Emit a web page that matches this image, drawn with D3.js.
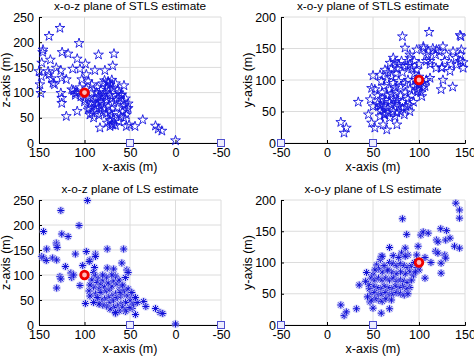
<!DOCTYPE html>
<html><head><meta charset="utf-8">
<script src="https://cdn.jsdelivr.net/npm/d3@7"></script>
<style>body{margin:0;background:#fff}svg{display:block}text{font-family:"Liberation Sans",Arial,sans-serif}</style>
</head><body><svg id="c" width="474" height="356"></svg>
<script>
// ---- data ----
const titles = ["x-o-z plane of STLS estimate","x-o-y plane of STLS estimate","x-o-z plane of LS estimate","x-o-y plane of LS estimate"];
const xLabels = ["x-axis (m)","x-axis (m)","x-axis (m)","x-axis (m)"];
const yLabels = ["z-axis (m)","y-axis (m)","z-axis (m)","y-axis (m)"];
const xTicksLeft = [150,100,50,0,-50];
const xTicksRight = [-50,0,50,100,150];
const yTicksZ = [0,50,100,150,200,250];
const yTicksY = [0,50,100,150,200];
const trueSource = [[100,100]];
const anchorsXZ = [[50,0],[-50,0]];
const anchorsXY = [[-50,0],[50,0]];

const stlsXZ = [[127,228],[139,212],[106,198],[145.6,185],[146,180],[124.6,180],[118,177],[84.6,175],[67.6,177],[147,159],[137.5,165],[108,167],[69,153],[131,149],[126,144],[113,147],[105,147],[99,157],[88.6,144],[77.6,144],[150,142],[140,142],[147.4,132],[139,136],[136.4,128],[134.6,119],[125,129],[120,126],[133,116],[149,116],[148,99],[126,99],[125,89],[125,79],[120,53],[108,63],[114,106],[110,99],[103,126],[96,122],[92,116],[98,136],[74,122],[72,116],[56.6,114],[63,106],[59,96],[83,30],[72,33],[69,36],[54,33],[51,36],[44.5,33],[52,69],[54,56],[57,50],[36,46],[22,34],[19,28],[15,24],[0,5],[94,56],[96,66],[87,73],[99.6,86],
[82,105],[78,100],[75,110],[80,95],[85,92],[88,88],[72,95],[70,88],[76,85],[82,82],[86,78],[90,80],[79,76],[74,72],[68,80],[65,85],[62,90],[60,95],[78,68],[84,70],[88,65],[72,62],[76,58],[80,60],[70,55],[66,60],[64,70],[68,48],[72,45],[75,40],[70,38],[66,35],[62,42],[60,52],[58,62],[56,75],[58,82],[84,55],[90,50],[92,60],[95,70],[93,78],[96,90],[100,82],[104,92],[108,100],[110,95],[105,110],[112,104],[98,108],[92,100],[86,110],[80,118],[74,120],[70,125],[78,124],[66,118],[62,100],[55,88],[52,78],[54,66],[82,90],[77,92],[73,104],[69,108],[87,100]];

const stlsXY = [[111,176],[82,169],[144.6,171],[145.6,169],[34,65],[15,33],[18.5,16],[21,24],[50,107],[45,45],[48.5,32],[52,24],[65,21],[76,29],[61,29],[119,148],[126,153],[137,145],[146,148],[145,130],[148,119],[141,124],[133.7,114],[124.6,119],[118.5,119],[112,130],[104.7,153],[97.5,148],[90,140],[84.8,151],[108,140],[126,100],[124,85],[136.6,89],[112,103],[106.5,90],[103,74],[99,82],[97.5,116],[85,122],[81,130],[90,124],[72,135],[68.5,127],[63,116],[57.6,108],[59,98],[48.5,87],[47,69],[50,58],[57.6,58],[57.6,42],[63,45],
[65,100],[70,105],[75,110],[72,95],[78,98],[80,90],[85,95],[88,100],[74,88],[68,85],[62,90],[60,80],[65,75],[70,78],[75,80],[80,75],[85,80],[90,85],[92,75],[88,70],[82,65],[76,68],[72,70],[68,65],[64,68],[60,70],[58,60],[62,58],[66,55],[70,60],[75,62],[78,58],[82,55],[86,58],[90,60],[94,65],[72,50],[76,48],[80,50],[84,45],[66,48],[62,45],[58,52],[55,62],[55,75],[52,85],[68,40],[74,42],[90,50],[95,90],[98,95],[100,105],[95,110],[92,118],[88,122],[82,112],[76,118],[100,92],[104,88],[102,80],[98,85],[105,95],[108,100],[96,100],[78,125],[74,128],[70,118],[66,112],
[110,145],[115,150],[105,150],[130,140],[135,125],[140,135],[125,120],[128,130],[112,125],[118,140],[122,145],[145,140],[148,128],[108,130],[100,125],[95,130],[90,135]];

const lsXZ = [[96.8,249],[126,229],[106,199],[145,187],[125,182],[118,177],[131,164],[130.6,160],[130,155],[141.6,152],[98,147],[110,142],[88,142],[88,137],[75,152],[57,152],[147,137],[145,134],[142,129],[135,134],[130.6,130],[121,117],[94,130],[94.8,127],[59,124],[127,97],[126,92],[130.6,74],[115,104],[114,95],[112,100],[105,79],[102,119],[89,115],[75,114],[68,112],[53.5,110],[99,43],[83.6,43],[35,47],[32.6,37],[22,33],[17,25],[14,23],[0,2],[66,23],[44,21],[55,27],[47.6,33],
[90,105],[88,98],[85,92],[92,90],[86,85],[80,88],[82,80],[78,75],[84,72],[90,76],[94,80],[95,68],[88,62],[82,65],[76,68],[72,72],[70,78],[74,84],[68,88],[64,82],[60,75],[62,68],[66,62],[70,58],[74,55],[78,52],[82,50],[86,48],[72,45],[68,50],[64,55],[60,58],[56,62],[52,58],[48,55],[45,50],[50,48],[55,45],[60,42],[64,38],[68,35],[72,32],[76,38],[58,35],[54,30],[50,35],[46,42],[42,45],[62,28],[66,25],[80,40],[84,42],[60,65],[56,70],[52,72],[58,80],[62,90],[66,98],[70,100],[76,96],[80,100],[55,95],[52,105],[48,65],[44,55],[86,55],[90,45],[94,58]];

const lsXY = [[140,195],[144,184],[144,171],[82,170],[86.6,145],[102,144],[104.6,149],[123.6,154],[130,151],[129,136],[133.7,139],[110,147],[119,136],[120.6,133],[138.6,126],[144,123],[118,118],[120.6,115],[128,112],[129,107],[124,99],[113,100],[106.5,108],[99,126],[97.5,112],[85,123],[81,115],[88,112],[106.5,75],[124,83],[99,96],[68,124],[59,110],[54,96],[72,111],[43,84],[35,64],[15,32],[18.6,15],[21,21],[32,26],[46.7,37],[50,27],[59,19],[68,26],
[68,100],[72,98],[76,95],[80,98],[84,95],[88,92],[92,95],[90,85],[85,82],[80,85],[75,82],[70,85],[65,88],[60,85],[56,90],[52,88],[50,80],[48,75],[52,72],[56,75],[60,72],[64,75],[68,72],[72,75],[76,70],[80,72],[84,70],[88,68],[92,72],[94,80],[90,60],[86,58],[82,62],[78,60],[74,62],[70,58],[66,60],[62,62],[58,58],[54,60],[50,62],[46,58],[48,50],[52,52],[56,48],[60,50],[64,52],[68,48],[72,50],[76,52],[80,50],[84,48],[88,50],[56,40],[60,38],[64,42],[52,42],[48,40],[44,45],[70,40],[66,88],[62,95],[58,105],[60,110],[78,108],[85,110],[95,100],[98,92],[100,88],[96,85],[45,65],[42,70]];

// ---- layout ----
const svg = d3.select("#c");
const panels = [
  {l:39,r:221,t:17,b:143,xd:[150,-50],yd:[0,250],xt:xTicksLeft,yt:yTicksZ,data:stlsXZ,mark:"star",anch:anchorsXZ},
  {l:281,r:465,t:17,b:143,xd:[-50,150],yd:[0,200],xt:xTicksRight,yt:yTicksY,data:stlsXY,mark:"star",anch:anchorsXY},
  {l:39,r:221,t:200,b:325,xd:[150,-50],yd:[0,250],xt:xTicksLeft,yt:yTicksZ,data:lsXZ,mark:"ast",anch:anchorsXZ},
  {l:281,r:465,t:200,b:325,xd:[-50,150],yd:[0,200],xt:xTicksRight,yt:yTicksY,data:lsXY,mark:"ast",anch:anchorsXY}
];
const starPath = d3.symbol().type(d3.symbolStar).size(30)();

panels.forEach((p,i)=>{
  const x = d3.scaleLinear().domain(p.xd).range([p.l,p.r]);
  const y = d3.scaleLinear().domain(p.yd).range([p.b,p.t]);
  const g = svg.append("g");
  // grid
  g.selectAll(".gx").data(p.xt).join("line").attr("x1",d=>x(d)).attr("x2",d=>x(d)).attr("y1",p.t).attr("y2",p.b).attr("stroke","#dcdcdc").attr("stroke-width",1);
  g.selectAll(".gy").data(p.yt).join("line").attr("y1",d=>y(d)).attr("y2",d=>y(d)).attr("x1",p.l).attr("x2",p.r).attr("stroke","#dcdcdc").attr("stroke-width",1);
  // axes
  const ax = g.append("g").attr("transform",`translate(0,${p.b})`).call(d3.axisBottom(x).tickValues(p.xt).tickSize(-3).tickPadding(5).tickFormat(d3.format("d")));
  const ay = g.append("g").attr("transform",`translate(${p.l},0)`).call(d3.axisLeft(y).tickValues(p.yt).tickSize(-3).tickPadding(5).tickFormat(d3.format("d")));
  [ax,ay].forEach(a=>{a.select(".domain").attr("stroke","#000");a.selectAll("text").attr("font-size",12.5).attr("fill","#000").attr("font-family","Liberation Sans, Arial, sans-serif");a.selectAll(".tick line").attr("stroke","#000");});
  ax.selectAll("text").text(d=>d<0?"-"+Math.abs(d):d);
  // marks
  const m = g.append("g");
  if(p.mark==="star"){
    m.selectAll("path").data(p.data).join("path").attr("d",starPath)
      .attr("transform",d=>`translate(${x(d[0])},${y(d[1])})`)
      .attr("fill","none").attr("stroke","#1414e0").attr("stroke-width",0.9);
  } else {
    const ag = m.selectAll("g").data(p.data).join("g").attr("transform",d=>`translate(${x(d[0])},${y(d[1])})`);
    ag.append("circle").attr("r",4.2).attr("fill","#b8b8f4").attr("opacity",0.55);
    ag.append("path").attr("d","M-3.5,0H3.5M0,-3.5V3.5M-2.5,-2.5L2.5,2.5M-2.5,2.5L2.5,-2.5").attr("stroke","#1010d8").attr("stroke-width",1);
  }
  // anchors
  g.selectAll(".an").data(p.anch).join("rect").attr("x",d=>x(d[0])-3.5).attr("y",d=>y(d[1])-3.5).attr("width",7).attr("height",7)
    .attr("fill","#eef").attr("stroke","#5050d0").attr("stroke-width",1);
  // true source
  g.selectAll(".src").data(trueSource).join("circle").attr("cx",d=>x(d[0])).attr("cy",d=>y(d[1])).attr("r",3.8)
    .attr("fill","#fbb").attr("stroke","#e00").attr("stroke-width",2.8);
  // labels
  const cx = (p.l+p.r)/2;
  g.append("text").attr("x",cx).attr("y",p.t-7).attr("text-anchor","middle").attr("font-size",11.8).text(titles[i]);
  g.append("text").attr("x",cx).attr("y",p.b+27.5).attr("text-anchor","middle").attr("font-size",12.5).text(xLabels[i]);
  g.append("text").attr("transform",`translate(${p.l-29},${(p.t+p.b)/2}) rotate(-90)`).attr("text-anchor","middle").attr("font-size",12.5).text(yLabels[i]);
});
</script></body></html>
